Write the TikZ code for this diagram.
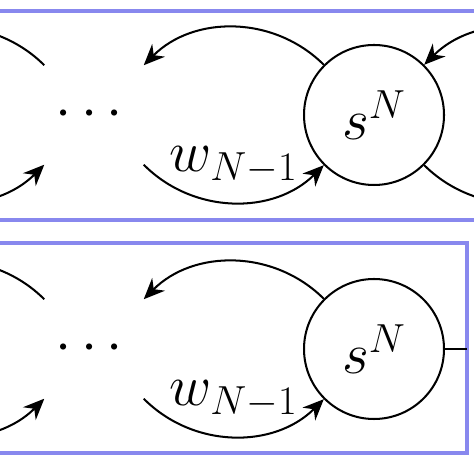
\documentclass[tikz,border=0pt]{standalone}
\usepackage{fix-cm}
\usepackage{tikz}
\usepackage{amsmath}
\usetikzlibrary{arrows.meta}
\definecolor{panelblue}{RGB}{136,136,238}
\tikzstyle{state} = [circle, minimum size=2.8cm, draw=black, line width=1.15pt, font=\fontsize{33}{40}\selectfont]
\tikzstyle{hidden} = [circle, minimum size=2.8cm, font=\fontsize{33}{40}\selectfont]
\tikzstyle{link} = [-{Stealth[length=4.2mm, width=3.6mm]}, line width=1.15pt, bend right=45]
\tikzstyle{panel} = [draw=panelblue, line width=2pt]

\begin{document}
\begin{tikzpicture}
					\useasboundingbox (0,0) rectangle (9.48,9.48);
					\clip (0,0) rectangle (9.48,9.48);
					\draw[panel] (-1,5.08) rectangle (10.5,9.26);
					\draw[panel] (-1,0.42) rectangle (9.34,4.62);
					\node [hidden] (prevA) at (-3.72,7.18) {};
					\node [hidden] (dotsA) at (1.88,7.18) {$\cdots$};
					\node [state] (sA) at (7.48,7.18) {$s^N$};
					\node [hidden] (nextA) at (13.08,7.18) {};
					\node [hidden] (prevB) at (-3.72,2.50) {};
					\node [hidden] (dotsB) at (1.88,2.50) {$\cdots$};
					\node [state] (sB) at (7.48,2.50) {$s^N$};
					\coordinate (outB) at (9.34,2.50);
					\draw[link] (dotsA.135) to (prevA.45);
					\draw[link] (prevA.-45) to (dotsA.-135);
					\draw[link] (sA.135) to (dotsA.45);
					\draw[link] (dotsA.-45) to node[above=2.4mm, font=\fontsize{33}{40}\selectfont] {$w_{N-1}$} (sA.-135);
					\draw[link] (nextA.135) to (sA.45);
					\draw[link] (sA.-45) to (nextA.-135);
					\draw[link] (dotsB.135) to (prevB.45);
					\draw[link] (prevB.-45) to (dotsB.-135);
					\draw[link] (sB.135) to (dotsB.45);
					\draw[link] (dotsB.-45) to node[above=2.4mm, font=\fontsize{33}{40}\selectfont] {$w_{N-1}$} (sB.-135);
					\draw[line width=1.15pt] (sB.east) -- (outB);
				\end{tikzpicture}
\end{document}
